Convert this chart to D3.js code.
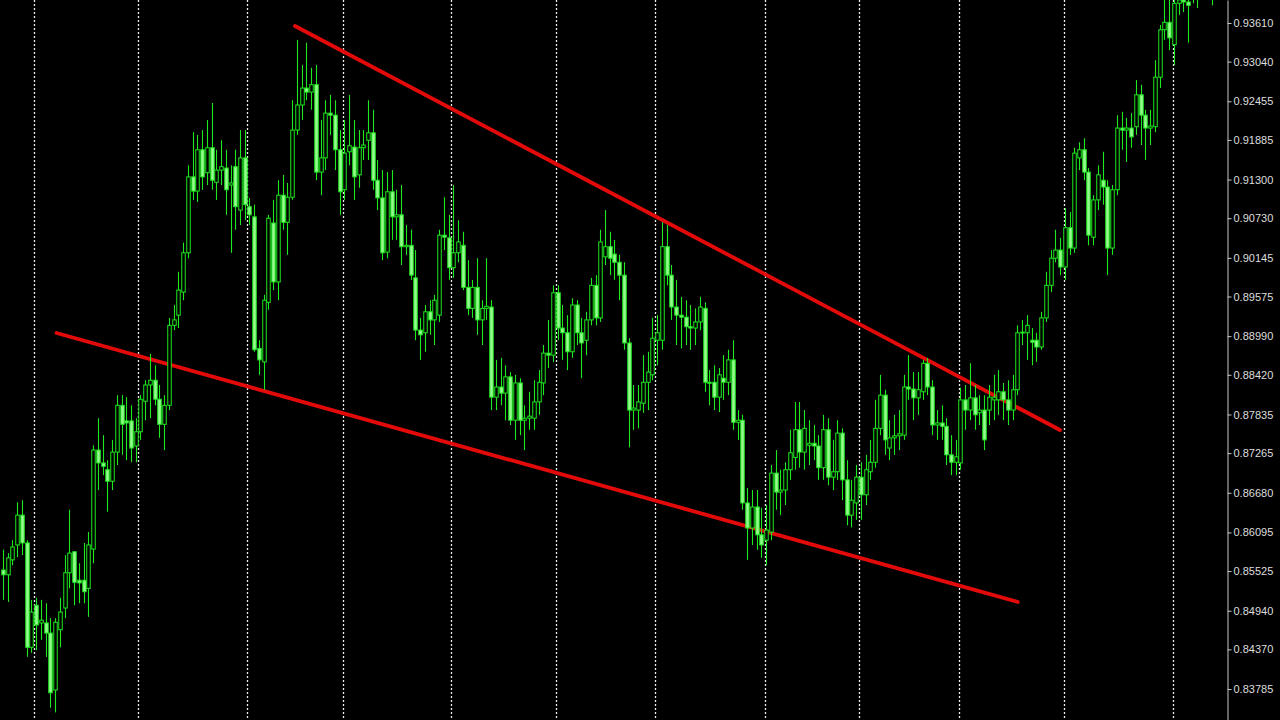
<!DOCTYPE html>
<html><head><meta charset="utf-8">
<script src="https://cdn.jsdelivr.net/npm/d3@7"></script>
<style>html,body{margin:0;padding:0;background:#000;overflow:hidden}</style>
</head><body>
<script>
// OHLC candles (price), one per bar, left to right
const opens = [0.8554,0.8547,0.8569,0.8591,0.8635,0.8594,0.8440,0.8502,0.8476,0.8476,
0.8461,0.8377,0.8466,0.8498,0.8550,0.8581,0.8539,0.8539,0.8527,0.8585,
0.8731,0.8712,0.8702,0.8685,0.8728,0.8797,0.8774,0.8774,0.8737,0.8758,
0.8803,0.8827,0.8834,0.8806,0.8769,0.8797,0.8915,0.8930,0.8964,0.9022,
0.9134,0.9113,0.9174,0.9140,0.9177,0.9126,0.9144,0.9147,0.9122,0.9149,
0.9085,0.9162,0.9090,0.9075,0.8881,0.8861,0.8949,0.9066,0.8979,0.9107,
0.9067,0.9104,0.9203,0.9240,0.9265,0.9259,0.9270,0.9141,0.9162,0.9228,
0.9225,0.9174,0.9115,0.9171,0.9178,0.9137,0.9177,0.9188,0.9199,0.9129,
0.9103,0.9023,0.9112,0.9075,0.9078,0.9031,0.9033,0.8985,0.8908,0.8904,
0.8935,0.8923,0.8930,0.9048,0.9044,0.9000,0.9022,0.9033,0.8971,0.8940,
0.8971,0.8923,0.8940,0.8942,0.8809,0.8824,0.8815,0.8839,0.8775,0.8830,
0.8775,0.8778,0.8778,0.8802,0.8830,0.8874,0.8871,0.8963,0.8911,0.8904,
0.8876,0.8945,0.8904,0.8893,0.8923,0.8974,0.8926,0.9016,0.9031,0.9020,
0.9008,0.8989,0.8889,0.8790,0.8790,0.8800,0.8831,0.8842,0.8893,0.8893,
0.9031,0.8989,0.8942,0.8930,0.8927,0.8913,0.8911,0.8920,0.8940,0.8831,
0.8831,0.8809,0.8837,0.8831,0.8864,0.8772,0.8775,0.8653,0.8616,0.8647,
0.8606,0.8598,0.8610,0.8697,0.8669,0.8672,0.8702,0.8720,0.8761,0.8728,
0.8738,0.8741,0.8737,0.8705,0.8761,0.8691,0.8699,0.8756,0.8687,0.8635,
0.8653,0.8691,0.8665,0.8699,0.8713,0.8763,0.8812,0.8734,0.8749,0.8752,
0.8753,0.8824,0.8821,0.8808,0.8817,0.8859,0.8824,0.8768,0.8771,0.8766,
0.8724,0.8713,0.8712,0.8805,0.8790,0.8808,0.8786,0.8790,0.8790,0.8805,
0.8805,0.8817,0.8805,0.8790,0.8820,0.8904,0.8904,0.8893,0.8893,0.8883,
0.8926,0.8974,0.9014,0.9026,0.9001,0.9059,0.9029,0.9162,0.9174,0.9141,
0.9045,0.9100,0.9129,0.9119,0.9029,0.9115,0.9206,0.9203,0.9206,0.9208,
0.9255,0.9225,0.9206,0.9208,0.9281,0.9351,0.9362,0.9329,0.9390,0.9395,
0.9392,0.9402,0.9410,0.9407,0.9413,0.9404];
const highs = [0.8584,0.8579,0.8598,0.8654,0.8657,0.8598,0.8510,0.8513,0.8510,0.8505,
0.8483,0.8483,0.8513,0.8576,0.8643,0.8581,0.8564,0.8594,0.8610,0.8738,
0.8778,0.8753,0.8716,0.8746,0.8812,0.8812,0.8809,0.8797,0.8778,0.8812,
0.8834,0.8873,0.8856,0.8827,0.8812,0.8926,0.8945,0.8994,0.9037,0.9151,
0.9200,0.9196,0.9203,0.9218,0.9243,0.9174,0.9188,0.9174,0.9151,0.9174,
0.9203,0.9203,0.9103,0.9093,0.8893,0.8960,0.9078,0.9100,0.9129,0.9137,
0.9125,0.9247,0.9336,0.9299,0.9332,0.9295,0.9299,0.9218,0.9247,0.9255,
0.9247,0.9203,0.9218,0.9255,0.9218,0.9203,0.9203,0.9247,0.9233,0.9159,
0.9144,0.9141,0.9144,0.9115,0.9122,0.9063,0.9056,0.9026,0.8926,0.8945,
0.8952,0.8960,0.9056,0.9104,0.9078,0.9122,0.9070,0.9053,0.9011,0.8982,
0.9014,0.8952,0.9014,0.8952,0.8864,0.8867,0.8856,0.8846,0.8842,0.8837,
0.8797,0.8817,0.8834,0.8849,0.8886,0.8923,0.8974,0.8974,0.8945,0.8930,
0.8955,0.8952,0.8926,0.8935,0.8985,0.8989,0.9056,0.9085,0.9053,0.9041,
0.9019,0.9008,0.8896,0.8827,0.8827,0.8871,0.8876,0.8926,0.8930,0.9067,
0.9063,0.9004,0.8982,0.8957,0.8952,0.8945,0.8940,0.8957,0.8949,0.8849,
0.8856,0.8852,0.8871,0.8879,0.8893,0.8790,0.8783,0.8675,0.8672,0.8672,
0.8646,0.8650,0.8709,0.8731,0.8702,0.8713,0.8761,0.8802,0.8802,0.8790,
0.8775,0.8768,0.8753,0.8783,0.8778,0.8746,0.8775,0.8763,0.8716,0.8687,
0.8709,0.8713,0.8724,0.8746,0.8805,0.8842,0.8820,0.8775,0.8783,0.8790,
0.8842,0.8871,0.8846,0.8846,0.8864,0.8867,0.8834,0.8790,0.8797,0.8778,
0.8753,0.8746,0.8823,0.8827,0.8859,0.8827,0.8812,0.8812,0.8827,0.8842,
0.8849,0.8830,0.8834,0.8842,0.8915,0.8923,0.8930,0.8911,0.8904,0.8935,
0.8994,0.9026,0.9056,0.9044,0.9088,0.9082,0.9177,0.9185,0.9191,0.9147,
0.9107,0.9151,0.9171,0.9129,0.9122,0.9225,0.9230,0.9221,0.9228,0.9277,
0.9270,0.9233,0.9233,0.9306,0.9358,0.9395,0.9402,0.9410,0.9417,0.9417,
0.9413,0.9424,0.9424,0.9432,0.9432,0.9424];
const lows = [0.8510,0.8507,0.8561,0.8573,0.8576,0.8426,0.8432,0.8436,0.8451,0.8426,
0.8351,0.8344,0.8440,0.8483,0.8527,0.8502,0.8505,0.8505,0.8485,0.8564,
0.8672,0.8694,0.8640,0.8672,0.8709,0.8724,0.8716,0.8713,0.8713,0.8746,
0.8775,0.8778,0.8797,0.8749,0.8731,0.8790,0.8908,0.8911,0.8952,0.9014,
0.9100,0.9097,0.9115,0.9122,0.9115,0.9100,0.9122,0.9078,0.9022,0.9056,
0.9063,0.9070,0.9063,0.8876,0.8842,0.8820,0.8938,0.8967,0.8952,0.9056,
0.9019,0.9100,0.9196,0.9218,0.9247,0.9233,0.9129,0.9107,0.9144,0.9196,
0.9144,0.9078,0.9100,0.9151,0.9100,0.9118,0.9159,0.9159,0.9115,0.9085,
0.9011,0.9014,0.9041,0.9041,0.9004,0.9019,0.8982,0.8893,0.8864,0.8876,
0.8901,0.8886,0.8920,0.9026,0.8982,0.8985,0.9008,0.8967,0.8930,0.8926,
0.8901,0.8886,0.8923,0.8790,0.8790,0.8797,0.8775,0.8768,0.8746,0.8753,
0.8731,0.8761,0.8761,0.8783,0.8812,0.8852,0.8861,0.8893,0.8864,0.8849,
0.8867,0.8886,0.8837,0.8871,0.8915,0.8915,0.8920,0.9004,0.8989,0.8982,
0.8952,0.8879,0.8735,0.8761,0.8763,0.8786,0.8790,0.8834,0.8856,0.8879,
0.8974,0.8923,0.8886,0.8881,0.8886,0.8879,0.8886,0.8908,0.8817,0.8797,
0.8790,0.8787,0.8805,0.8812,0.8761,0.8746,0.8643,0.8569,0.8591,0.8584,
0.8572,0.8561,0.8598,0.8643,0.8635,0.8650,0.8687,0.8702,0.8705,0.8702,
0.8709,0.8716,0.8687,0.8687,0.8679,0.8672,0.8687,0.8657,0.8620,0.8617,
0.8628,0.8628,0.8650,0.8687,0.8705,0.8753,0.8724,0.8716,0.8724,0.8731,
0.8746,0.8805,0.8775,0.8783,0.8805,0.8812,0.8753,0.8746,0.8746,0.8709,
0.8694,0.8694,0.8702,0.8761,0.8775,0.8761,0.8768,0.8731,0.8768,0.8775,
0.8783,0.8775,0.8768,0.8775,0.8812,0.8886,0.8864,0.8856,0.8861,0.8879,
0.8920,0.8964,0.9008,0.8989,0.8982,0.9019,0.9022,0.9144,0.9129,0.9033,
0.9033,0.9085,0.9093,0.8989,0.9019,0.9107,0.9174,0.9156,0.9177,0.9196,
0.9181,0.9159,0.9181,0.9200,0.9265,0.9336,0.9321,0.9299,0.9373,0.9377,
0.9332,0.9390,0.9383,0.9398,0.9396,0.9387];
const closes = [0.8547,0.8572,0.8588,0.8635,0.8594,0.8440,0.8492,0.8473,0.8480,0.8461,
0.8373,0.8477,0.8492,0.8550,0.8579,0.8536,0.8535,0.8522,0.8591,0.8731,
0.8712,0.8707,0.8685,0.8728,0.8797,0.8769,0.8771,0.8734,0.8758,0.8806,
0.8827,0.8834,0.8806,0.8769,0.8797,0.8915,0.8923,0.8967,0.9022,0.9134,
0.9113,0.9174,0.9134,0.9177,0.9129,0.9144,0.9149,0.9115,0.9125,0.9090,
0.9162,0.9093,0.9078,0.8879,0.8864,0.8952,0.9073,0.8979,0.9107,0.9067,
0.9104,0.9203,0.9240,0.9265,0.9259,0.9270,0.9141,0.9162,0.9228,0.9225,
0.9174,0.9112,0.9169,0.9180,0.9134,0.9177,0.9181,0.9199,0.9129,0.9103,
0.9022,0.9112,0.9075,0.9078,0.9031,0.9033,0.8989,0.8908,0.8901,0.8935,
0.8923,0.8952,0.9048,0.9045,0.9000,0.9022,0.9038,0.8971,0.8940,0.8971,
0.8923,0.8940,0.8943,0.8809,0.8824,0.8815,0.8839,0.8775,0.8830,0.8775,
0.8778,0.8781,0.8802,0.8831,0.8874,0.8871,0.8963,0.8911,0.8904,0.8876,
0.8945,0.8904,0.8889,0.8923,0.8974,0.8926,0.9038,0.9031,0.9014,0.9008,
0.8989,0.8889,0.8790,0.8793,0.8802,0.8831,0.8846,0.8896,0.8904,0.9031,
0.8989,0.8942,0.8930,0.8927,0.8913,0.8911,0.8920,0.8942,0.8831,0.8830,
0.8809,0.8842,0.8831,0.8864,0.8772,0.8775,0.8653,0.8616,0.8647,0.8606,
0.8591,0.8613,0.8697,0.8669,0.8672,0.8702,0.8727,0.8761,0.8728,0.8763,
0.8741,0.8737,0.8705,0.8761,0.8691,0.8699,0.8756,0.8687,0.8635,0.8657,
0.8691,0.8665,0.8702,0.8713,0.8763,0.8812,0.8746,0.8749,0.8752,0.8755,
0.8824,0.8821,0.8808,0.8820,0.8859,0.8824,0.8768,0.8771,0.8766,0.8724,
0.8713,0.8721,0.8805,0.8790,0.8808,0.8783,0.8790,0.8746,0.8809,0.8809,
0.8817,0.8805,0.8790,0.8820,0.8904,0.8905,0.8915,0.8890,0.8883,0.8926,
0.8974,0.9014,0.9026,0.9001,0.9059,0.9029,0.9169,0.9174,0.9141,0.9048,
0.9100,0.9137,0.9119,0.9029,0.9115,0.9206,0.9203,0.9206,0.9193,0.9255,
0.9225,0.9206,0.9209,0.9281,0.9351,0.9362,0.9339,0.9390,0.9395,0.9392,
0.9387,0.9410,0.9407,0.9413,0.9404,0.9399];

// price-axis tick labels
const tickValues = [0.93610,0.93040,0.92455,0.91885,0.91300,0.90730,0.90145,0.89575,0.88990,
  0.88420,0.87835,0.87265,0.86680,0.86095,0.85525,0.84940,0.84370,0.83785];
// period separators (bar positions)
const separatorBars = [6.5,28.5,51.5,71.7,94.5,116.7,137.6,160.8,180.6,201.7,223.8,246.8];
// trend lines: [bar, price] end points
const upperTrend = [[61.6,0.93565],[223.0,0.87606]];
const lowerTrend = [[11.3,0.89037],[214.1,0.85068]];

const W = 1280, H = 720, plotRight = 1227;
const svg = d3.select("body").append("svg").attr("width", W).attr("height", H)
  .style("display","block").style("background","#000");
svg.append("rect").attr("width", W).attr("height", H).attr("fill", "#000");

const x = d3.scaleLinear().domain([0, opens.length - 1]).range([3, 1211.7]);
const y = d3.scaleLinear().domain([0.83328, 0.93949]).range([H, 0]);

svg.append("clipPath").attr("id","plot").append("rect")
  .attr("x",0).attr("y",0).attr("width",plotRight).attr("height",H);
const plot = svg.append("g").attr("clip-path","url(#plot)");

// separators
plot.append("g").selectAll("line").data(separatorBars).join("line")
  .attr("x1", d => Math.round(x(d)) + 0.5).attr("x2", d => Math.round(x(d)) + 0.5)
  .attr("y1", 0).attr("y2", H)
  .attr("stroke", "#ececec").attr("stroke-width", 1.3).attr("stroke-dasharray", "2,2");

// trend lines
const tl = d3.line().x(d => x(d[0])).y(d => y(d[1]));
[upperTrend, lowerTrend].forEach(t => {
  plot.append("path").attr("d", tl(t)).attr("fill","none")
    .attr("stroke","#e30a0a").attr("stroke-width",3.8).attr("stroke-linecap","round");
});

// candles
const green = "#1ee81e", bearFill = "#96fa90";
const idx = d3.range(opens.length);
const cg = plot.append("g");
cg.selectAll("line").data(idx).join("line")
  .attr("x1", i => Math.round(x(i)) + 0.5).attr("x2", i => Math.round(x(i)) + 0.5)
  .attr("y1", i => y(highs[i])).attr("y2", i => y(lows[i]))
  .attr("stroke", green).attr("stroke-width", 1.1);
cg.selectAll("rect").data(idx).join("rect")
  .attr("x", i => Math.round(x(i)) + 0.5 - 1.75).attr("width", 3.5)
  .attr("y", i => y(Math.max(opens[i], closes[i])))
  .attr("height", i => Math.max(1, Math.abs(y(opens[i]) - y(closes[i]))))
  .attr("fill", i => closes[i] >= opens[i] ? "#000" : bearFill)
  .attr("stroke", green).attr("stroke-width", 1);

// price axis
const axis = d3.axisRight(y).tickValues(tickValues).tickSize(4).tickSizeOuter(0)
  .tickPadding(2).tickFormat(d3.format(".5f"));
const ag = svg.append("g").attr("transform", `translate(${plotRight + 0.5},0)`).call(axis);
ag.select(".domain").attr("stroke", "#c8c8c8");
ag.selectAll(".tick line").attr("stroke", "#c8c8c8");
ag.selectAll(".tick text").attr("fill", "#dedede")
  .style("font-family", "'Liberation Sans', Arial, sans-serif").style("font-size", "11px");
</script>
</body></html>
